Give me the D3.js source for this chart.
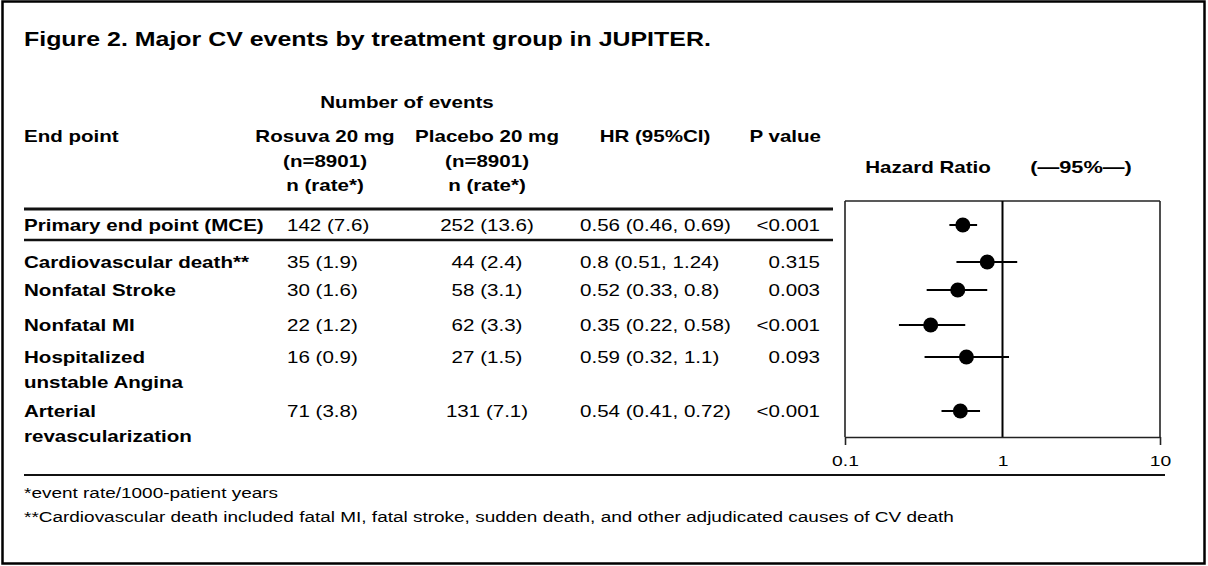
<!DOCTYPE html>
<html>
<head>
<meta charset="utf-8">
<script src="https://cdn.jsdelivr.net/npm/d3@7"></script>
<style>
  body { margin: 0; background: #fff; }
  svg { display: block; font-family: "Liberation Sans", Arial, sans-serif; }
</style>
</head>
<body>
<svg id="chart" width="1208" height="566"></svg>
<script>
// data
var endpoints = [
    ["Primary end point (MCE)"],
    ["Cardiovascular death**"],
    ["Nonfatal Stroke"],
    ["Nonfatal MI"],
    ["Hospitalized", "unstable Angina"],
    ["Arterial", "revascularization"]
];
var rosuvaN = [142, 35, 30, 22, 16, 71];
var rosuvaRate = [7.6, 1.9, 1.6, 1.2, 0.9, 3.8];
var placeboN = [252, 44, 58, 62, 27, 131];
var placeboRate = [13.6, 2.4, 3.1, 3.3, 1.5, 7.1];
var hr = [0.56, 0.8, 0.52, 0.35, 0.59, 0.54];
var hrLow = [0.46, 0.51, 0.33, 0.22, 0.32, 0.41];
var hrHigh = [0.69, 1.24, 0.8, 0.58, 1.1, 0.72];
var pValues = ["<0.001", "0.315", "0.003", "<0.001", "0.093", "<0.001"];
var axisTicks = [0.1, 1, 10];

// the original is stretched sideways, so text gets a horizontal scale
var sx = 1.285;
var svg = d3.select("#chart");

function label(x, y, txt, opts){
    opts = opts || {};
    return svg.append("text")
        .attr("transform", "translate(" + x + "," + y + ") scale(" + (opts.sx || sx) + ",1)")
        .attr("text-anchor", opts.anchor || "start")
        .attr("font-size", opts.size || 16)
        .attr("font-weight", opts.bold ? "bold" : "normal")
        .attr("fill", "#000")
        .text(txt);
}

// outer frame
svg.append("rect")
    .attr("x", 2.5).attr("y", 1.5)
    .attr("width", 1202).attr("height", 562)
    .attr("fill", "none").attr("stroke", "#000").attr("stroke-width", 2.5);

label(24, 45.5, "Figure 2. Major CV events by treatment group in JUPITER.", {size: 19.4, bold: true});

// column headers
label(407, 108, "Number of events", {anchor: "middle", bold: true});
label(24, 142, "End point", {bold: true});
var headRosuva = ["Rosuva 20 mg", "(n=8901)", "n (rate*)"];
var headPlacebo = ["Placebo 20 mg", "(n=8901)", "n (rate*)"];
headRosuva.forEach(function(t, i){ label(325, 142 + i * 24.5, t, {anchor: "middle", bold: true}); });
headPlacebo.forEach(function(t, i){ label(487, 142 + i * 24.5, t, {anchor: "middle", bold: true}); });
label(655, 142, "HR (95%CI)", {anchor: "middle", bold: true});
label(821, 142, "P value", {anchor: "end", bold: true});
label(928, 173, "Hazard Ratio", {anchor: "middle", bold: true});
label(1081, 173, "(\u201495%\u2014)", {anchor: "middle", bold: true, sx: 1.36});

// rules of the table
[[209, 3], [240, 2.5]].forEach(function(r){
    svg.append("line")
        .attr("x1", 24).attr("x2", 833)
        .attr("y1", r[0]).attr("y2", r[0])
        .attr("stroke", "#111").attr("stroke-width", r[1]);
});
svg.append("line")
    .attr("x1", 24).attr("x2", 1165)
    .attr("y1", 475).attr("y2", 475)
    .attr("stroke", "#111").attr("stroke-width", 2);

// row positions (first text line centre)
var idx = d3.range(endpoints.length);
var y = d3.scaleOrdinal().domain(idx).range([225, 262, 290, 325, 357, 411]);
var lineGap = 25;

idx.forEach(function(i){
    var cy = y(i);
    endpoints[i].forEach(function(t, k){
        label(24, cy + 6 + k * lineGap, t, {bold: true});
    });
    label(287, cy + 6, rosuvaN[i] + " (" + rosuvaRate[i] + ")");
    label(487, cy + 6, placeboN[i] + " (" + placeboRate[i] + ")", {anchor: "middle"});
    label(580, cy + 6, hr[i] + " (" + hrLow[i] + ", " + hrHigh[i] + ")");
    label(820, cy + 6, pValues[i], {anchor: "end"});
});

// forest plot
var x = d3.scaleLog().domain([0.1, 10]).range([845, 1160]);
var plotTop = 201, plotBottom = 437;

var plot = svg.append("g");
plot.append("line")
    .attr("x1", x(0.1)).attr("x2", x(10))
    .attr("y1", plotTop).attr("y2", plotTop)
    .attr("stroke", "#222").attr("stroke-width", 1.6);
[0.1, 10].forEach(function(v){
    plot.append("line")
        .attr("x1", x(v)).attr("x2", x(v))
        .attr("y1", plotTop).attr("y2", plotBottom)
        .attr("stroke", "#222").attr("stroke-width", 1.6);
});
plot.append("line")
    .attr("x1", x(1)).attr("x2", x(1))
    .attr("y1", plotTop).attr("y2", plotBottom)
    .attr("stroke", "#000").attr("stroke-width", 2);

var axis = svg.append("g")
    .attr("transform", "translate(0," + plotBottom + ")")
    .call(d3.axisBottom(x).tickValues(axisTicks).tickSize(8).tickSizeOuter(0).tickFormat(d3.format("")));
axis.select(".domain").attr("stroke", "#222").attr("stroke-width", 1.6);
axis.selectAll(".tick line").attr("stroke", "#222").attr("stroke-width", 1.6)
    .filter(function(d){ return d === 1; }).remove();
axis.selectAll(".tick text")
    .attr("y", 0).attr("dy", 0)
    .attr("transform", "translate(0,28.5) scale(" + sx + ",1)")
    .attr("font-family", "Liberation Sans, Arial, sans-serif")
    .attr("font-size", 15).attr("fill", "#000");

plot.selectAll("line.ci")
    .data(idx)
    .enter()
    .append("line")
    .attr("class", "ci")
    .attr("x1", function(i){ return x(hrLow[i]); })
    .attr("x2", function(i){ return x(hrHigh[i]); })
    .attr("y1", function(i){ return y(i); })
    .attr("y2", function(i){ return y(i); })
    .attr("stroke", "#000").attr("stroke-width", 2);

plot.selectAll("circle")
    .data(idx)
    .enter()
    .append("circle")
    .attr("cx", function(i){ return x(hr[i]); })
    .attr("cy", function(i){ return y(i); })
    .attr("r", 7.5)
    .attr("fill", "#000");

// footnotes
label(24, 498, "*event rate/1000-patient years", {size: 15, sx: 1.265});
label(24, 522, "**Cardiovascular death included fatal MI, fatal stroke, sudden death, and other adjudicated causes of CV death", {size: 15, sx: 1.265});
</script>
</body>
</html>
